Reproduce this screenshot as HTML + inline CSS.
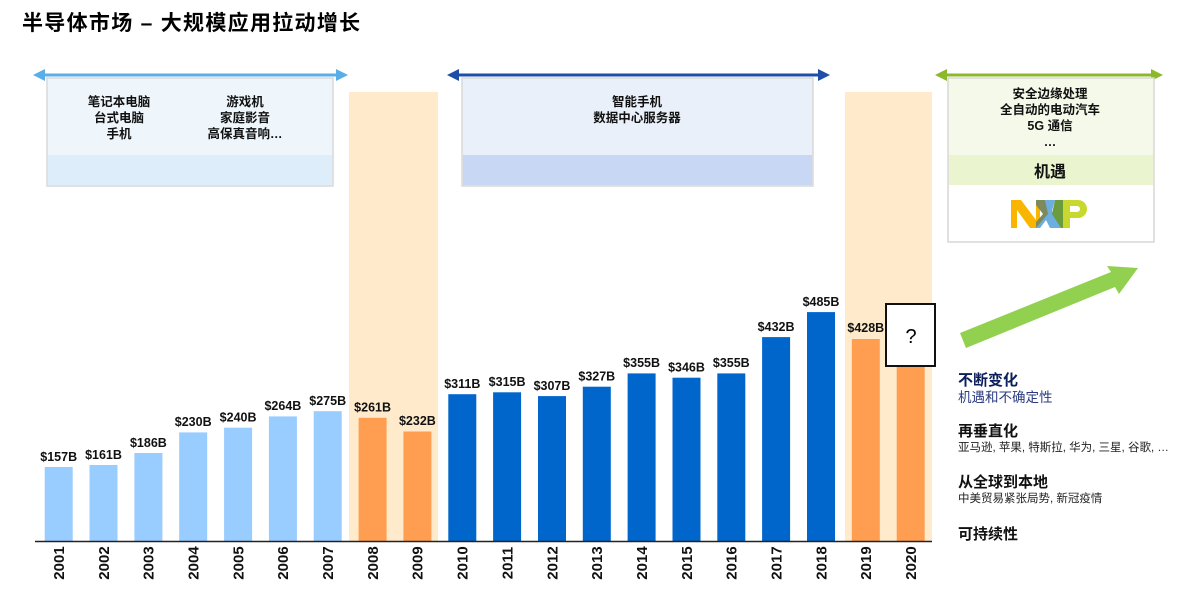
<!DOCTYPE html>
<html><head><meta charset="utf-8"><style>
body{margin:0;background:#fff;width:1192px;height:604px;overflow:hidden;font-family:"Liberation Sans","Noto Sans CJK SC",sans-serif}
svg text{font-family:"Liberation Sans","Noto Sans CJK SC",sans-serif}
</style></head><body>
<svg width="1192" height="604" xmlns="http://www.w3.org/2000/svg">
<text x="22" y="30" font-size="21" font-weight="bold" fill="#000" letter-spacing="1.3">半导体市场 – 大规模应用拉动增长</text>
<!-- bands -->
<rect x="349" y="92" width="89" height="449" fill="#FFEBCC"/>
<rect x="845" y="92" width="87" height="449" fill="#FFEBCC"/>
<!-- range arrows -->
<line x1="42" y1="75" x2="340" y2="75" stroke="#5AAEE8" stroke-width="3"/>
<polygon points="33,75 45,69 45,81" fill="#5AAEE8"/><polygon points="348,75 336,69 336,81" fill="#5AAEE8"/>
<line x1="456" y1="75" x2="822" y2="75" stroke="#1F4EAA" stroke-width="3"/>
<polygon points="447,75 459,69 459,81" fill="#1F4EAA"/><polygon points="830,75 818,69 818,81" fill="#1F4EAA"/>
<line x1="944" y1="75" x2="1155" y2="75" stroke="#8DB82A" stroke-width="3"/>
<polygon points="935,75 947,69 947,81" fill="#8DB82A"/><polygon points="1163,75 1151,69 1151,81" fill="#8DB82A"/>
<!-- boxes -->
<rect x="47" y="78" width="286" height="108" fill="#EEF6FC" stroke="#D8D8D8" stroke-width="1.5"/>
<rect x="48" y="155" width="284" height="30" fill="#DDEDF9"/>
<rect x="462" y="78" width="351" height="108" fill="#EAF0FA" stroke="#D8D8D8" stroke-width="1.5"/>
<rect x="463" y="155" width="349" height="30" fill="#C8D8F4"/>
<rect x="948" y="78" width="206" height="164" fill="#F5F9EA" stroke="#D8D8D8" stroke-width="1.5"/>
<rect x="949" y="155" width="204" height="30" fill="#EAF5CF"/>
<rect x="949" y="185" width="204" height="56" fill="#fff"/>
<g font-size="12.5" font-weight="bold" text-anchor="middle" fill="#111">
<text x="119" y="106">笔记本电脑</text><text x="119" y="122">台式电脑</text><text x="119" y="138">手机</text>
<text x="245" y="106">游戏机</text><text x="245" y="122">家庭影音</text><text x="245" y="138">高保真音响…</text>
<text x="637" y="106">智能手机</text><text x="637" y="122">数据中心服务器</text>
<text x="1050" y="98">安全边缘处理</text><text x="1050" y="114">全自动的电动汽车</text><text x="1050" y="130">5G 通信</text><text x="1050" y="146">…</text>
<text x="1050" y="177" font-size="16">机遇</text>
</g>
<!-- NXP logo -->
<polygon points="1011,200 1021,200 1036,220 1036,200 1040,200 1040,228 1030,228 1017,210 1017,228 1011,228" fill="#F9B500"/>
<polygon points="1036,200 1045,200 1052,211 1048,217 1040,228 1036,228 1036,222 1043,214 1036,205" fill="#7D8A5E"/>
<polygon points="1045,200 1055,200 1052,211 1061,228 1050,228 1046,220 1040,228 1036,228 1048,214" fill="#6CAEDF"/>
<polygon points="1055,200 1063,200 1063,228 1061,228 1052,214" fill="#6A9B3C"/>
<path d="M1063,200 H1078 A9 9 0 0 1 1078,218 H1070 V228 H1063 Z M1070,206 V212 H1077 A3 3 0 0 0 1077,206 Z" fill="#C9D82F" fill-rule="evenodd"/>
<!-- green arrow -->
<polygon points="960,333 1111,272 1107,266 1138,268 1119,294 1115,287 966,348" fill="#92D050"/>
<!-- bars -->
<g fill="#99CCFF">
<rect x="44.7" y="467" width="28" height="74"/><rect x="89.5" y="465" width="28" height="76"/><rect x="134.4" y="453" width="28" height="88"/><rect x="179.2" y="432.4" width="28" height="108.6"/><rect x="224.1" y="427.7" width="28" height="113.3"/><rect x="268.9" y="416.4" width="28" height="124.6"/><rect x="313.7" y="411.2" width="28" height="129.8"/>
</g>
<g fill="#FF9E50">
<rect x="358.6" y="417.8" width="28" height="123.2"/><rect x="403.4" y="431.5" width="28" height="109.5"/><rect x="851.8" y="339" width="28" height="202"/><rect x="896.7" y="360" width="28" height="181"/>
</g>
<g fill="#0066CC">
<rect x="448.3" y="394.2" width="28" height="146.8"/><rect x="493.1" y="392.3" width="28" height="148.7"/><rect x="538" y="396.1" width="28" height="144.9"/><rect x="582.8" y="386.7" width="28" height="154.3"/><rect x="627.6" y="373.4" width="28" height="167.6"/><rect x="672.5" y="377.7" width="28" height="163.3"/><rect x="717.3" y="373.4" width="28" height="167.6"/><rect x="762.1" y="337.1" width="28" height="203.9"/><rect x="807" y="312.1" width="28" height="228.9"/>
</g>
<rect x="886" y="304" width="49" height="62" fill="#fff" stroke="#111" stroke-width="2"/>
<text x="911" y="343" font-size="20" text-anchor="middle">?</text>
<line x1="35" y1="541.5" x2="932" y2="541.5" stroke="#222" stroke-width="1.5"/>
<g font-size="12.5" font-weight="bold" text-anchor="middle" fill="#111">
<text x="58.7" y="461">$157B</text><text x="103.5" y="459">$161B</text><text x="148.4" y="447">$186B</text><text x="193.2" y="426">$230B</text><text x="238.1" y="421.5">$240B</text><text x="282.9" y="410">$264B</text><text x="327.7" y="405">$275B</text><text x="372.6" y="411.5">$261B</text><text x="417.4" y="425">$232B</text><text x="462.3" y="388">$311B</text><text x="507.1" y="386">$315B</text><text x="552" y="390">$307B</text><text x="596.8" y="380.5">$327B</text><text x="641.6" y="367">$355B</text><text x="686.5" y="371.5">$346B</text><text x="731.3" y="367">$355B</text><text x="776.1" y="331">$432B</text><text x="821" y="306">$485B</text><text x="865.8" y="332">$428B</text>
</g>
<g font-size="15" font-weight="bold" text-anchor="middle" fill="#111">
<text transform="translate(64,563) rotate(-90)">2001</text><text transform="translate(108.8,563) rotate(-90)">2002</text><text transform="translate(153.7,563) rotate(-90)">2003</text><text transform="translate(198.5,563) rotate(-90)">2004</text><text transform="translate(243.4,563) rotate(-90)">2005</text><text transform="translate(288.2,563) rotate(-90)">2006</text><text transform="translate(333,563) rotate(-90)">2007</text><text transform="translate(377.9,563) rotate(-90)">2008</text><text transform="translate(422.7,563) rotate(-90)">2009</text><text transform="translate(467.6,563) rotate(-90)">2010</text><text transform="translate(512.4,563) rotate(-90)">2011</text><text transform="translate(557.3,563) rotate(-90)">2012</text><text transform="translate(602.1,563) rotate(-90)">2013</text><text transform="translate(646.9,563) rotate(-90)">2014</text><text transform="translate(691.8,563) rotate(-90)">2015</text><text transform="translate(736.6,563) rotate(-90)">2016</text><text transform="translate(781.4,563) rotate(-90)">2017</text><text transform="translate(826.3,563) rotate(-90)">2018</text><text transform="translate(871.1,563) rotate(-90)">2019</text><text transform="translate(916,563) rotate(-90)">2020</text>
</g>
<!-- right text -->
<text x="958" y="385" font-size="15" font-weight="bold" fill="#0B1F5C">不断变化</text>
<text x="958" y="402" font-size="13.5" fill="#2A3A80">机遇和不确定性</text>
<text x="958" y="436" font-size="15" font-weight="bold" fill="#111">再垂直化</text>
<text x="958" y="451" font-size="11.5" fill="#222">亚马逊, 苹果, 特斯拉, 华为, 三星, 谷歌, …</text>
<text x="958" y="487" font-size="15" font-weight="bold" fill="#111">从全球到本地</text>
<text x="958" y="502" font-size="11.5" fill="#222">中美贸易紧张局势, 新冠疫情</text>
<text x="958" y="539" font-size="15" font-weight="bold" fill="#111">可持续性</text>
</svg>
</body></html>
